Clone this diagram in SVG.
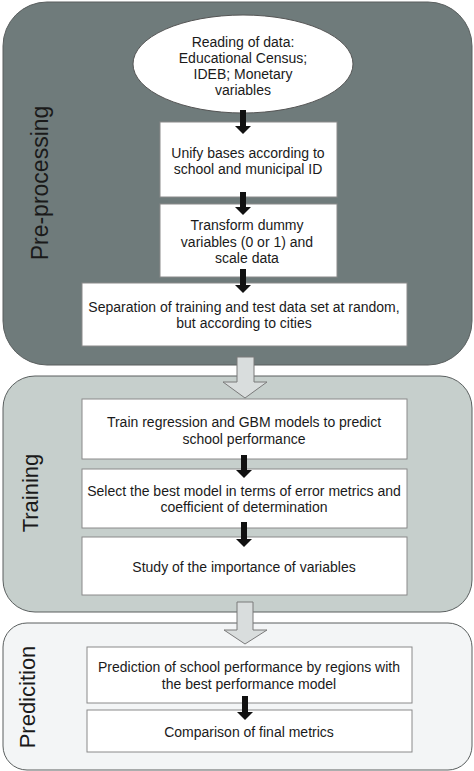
<svg xmlns="http://www.w3.org/2000/svg" width="474" height="771" viewBox="0 0 474 771">
<defs>
<style>
.t{font-family:"Liberation Sans",Arial,sans-serif;font-size:14px;fill:#1a1a1a;text-anchor:middle}
.lbl{font-family:"Liberation Sans",Arial,sans-serif;font-size:23px;fill:#1a1a1a;text-anchor:middle}
.box{fill:#ffffff;stroke:#8a8a8a;stroke-width:1}
.pan{stroke:#5a5f5f;stroke-width:1}
.big{fill:#d9dddd;stroke:#7a7a7a;stroke-width:1}
.blk{fill:#111111}
</style>
</defs>
<rect width="474" height="771" fill="#ffffff"/>
<g id="panel-preprocessing">
<rect class="pan" x="3" y="2" width="469" height="363" rx="44" ry="44" fill="#6f7b7b"/>
<text class="lbl" transform="translate(48,183) rotate(-90)">Pre-processing</text>
</g>
<g id="panel-training">
<rect class="pan" x="3" y="376" width="469" height="236" rx="32" ry="32" fill="#c6cfcc"/>
<text class="lbl" font-size="22" style="font-size:22px" transform="translate(38,493) rotate(-90)">Training</text>
</g>
<g id="panel-prediction">
<rect class="pan" x="3" y="623" width="469" height="147" rx="24" ry="24" fill="#f3f5f6"/>
<text class="lbl" style="font-size:22px" transform="translate(35,697) rotate(-90)">Predicition</text>
</g>
<g id="n-reading">
<ellipse cx="243" cy="64" rx="110" ry="49" fill="#ffffff" stroke="#555" stroke-width="1"/>
<text class="t" x="243" y="47">Reading of data:</text>
<text class="t" x="243" y="63">Educational Census;</text>
<text class="t" x="243" y="79">IDEB; Monetary</text>
<text class="t" x="243" y="95">variables</text>
</g>
<g id="n-unify">
<rect class="box" x="160" y="122" width="177" height="75"/>
<text class="t" x="248" y="158">Unify bases according to</text>
<text class="t" x="248" y="174">school and municipal ID</text>
</g>
<g id="n-transform">
<rect class="box" x="160" y="204" width="177" height="73"/>
<text class="t" x="247" y="230">Transform dummy</text>
<text class="t" x="247" y="247">variables (0 or 1) and</text>
<text class="t" x="247" y="263">scale data</text>
</g>
<g id="n-separation">
<rect class="box" x="82" y="283" width="325" height="63"/>
<text class="t" x="244" y="312">Separation of training and test data set at random,</text>
<text class="t" x="244" y="328">but according to cities</text>
</g>
<g id="n-train">
<rect class="box" x="82" y="399" width="325" height="60"/>
<text class="t" x="244" y="427">Train regression and GBM models to predict</text>
<text class="t" x="244" y="444">school performance</text>
</g>
<g id="n-select">
<rect class="box" x="82" y="469" width="325" height="59"/>
<text class="t" x="244" y="496">Select the best model in terms of error metrics and</text>
<text class="t" x="244" y="512">coefficient of determination</text>
</g>
<g id="n-study">
<rect class="box" x="82" y="537" width="325" height="58"/>
<text class="t" x="244" y="572">Study of the importance of variables</text>
</g>
<g id="n-predict">
<rect class="box" x="87" y="647" width="325" height="56"/>
<text class="t" x="249" y="672">Prediction of school performance by regions with</text>
<text class="t" x="249" y="689">the best performance model</text>
</g>
<g id="n-compare">
<rect class="box" x="87" y="710" width="325" height="42"/>
<text class="t" x="249" y="737">Comparison of final metrics</text>
</g>
<g id="connectors">
<path class="blk" d="M240,110 H246 V126 H251 L243,134 L235,126 H240 Z"/>
<path class="blk" d="M240,192 H246 V207 H251 L243,215 L235,207 H240 Z"/>
<path class="blk" d="M240,269 H246 V285 H251 L243,293 L235,285 H240 Z"/>
<path class="blk" d="M241,455 H247 V470 H252 L244,478 L236,470 H241 Z"/>
<path class="blk" d="M241,522 H247 V539 H252 L244,547 L236,539 H241 Z"/>
<path class="blk" d="M242,696 H248 V712 H253 L245,720 L237,712 H242 Z"/>
<path class="big" d="M237,357 H254 V382 H267 L245,398 L223,382 H237 Z"/>
<path class="big" d="M237,602 H253 V630 H267 L245,644 L224,630 H237 Z"/>
</g>
</svg>
